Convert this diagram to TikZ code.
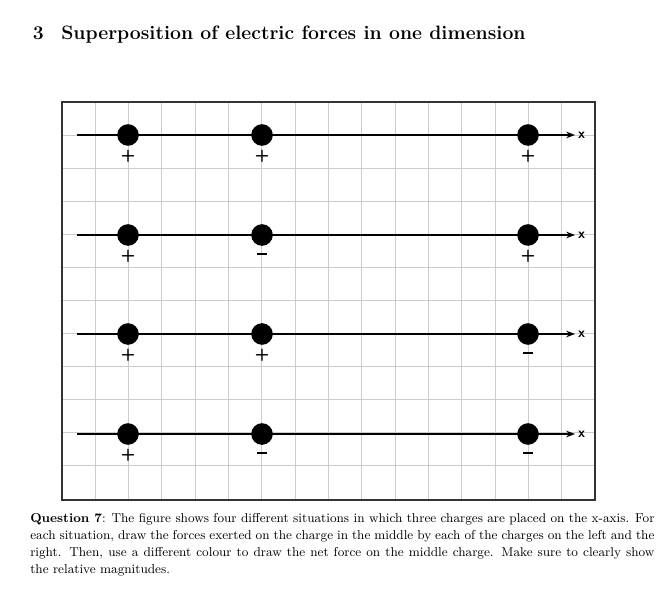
\documentclass[tikz,border=0pt]{standalone}
\usepackage{tikz}
\usetikzlibrary{arrows.meta, positioning}
\newcommand{\chplus}{+}
\newcommand{\chminus}{\rule[0.25em]{0.55em}{1.5pt}}

\begin{document}
\begin{tikzpicture}[
    x=0.025cm, y=-0.025cm,
    charge/.style = {circle, fill=black, inner sep=0pt, minimum size=0.54cm},
    sign/.style = {font=\large\sffamily\bfseries, inner sep=0pt, minimum height=0.3cm},
    axis/.style = {-{Stealth[length=2.2mm]}, line width=1pt},
    gridline/.style = {draw=black!20, line width=0.7pt}
]
\useasboundingbox (0,0) rectangle (671,616);

% ---- Heading ----
\node[anchor=west, font=\fontsize{13.8}{16}\selectfont\bfseries] (head) at (28,35)
    {3\hspace{0.9em}Superposition of electric forces in one dimension};

% ---- Grid ----
\foreach \i in {1,...,15} \draw[gridline] (62+33.33*\i,102) -- (62+33.33*\i,500);
\foreach \j in {1,...,11} \draw[gridline] (62,102+33.08*\j) -- (595,102+33.08*\j);
\draw[black!80, line width=1pt] (62,102) rectangle (595,500);

% ---- Charges on the x-axes ----
\foreach \r/\y/\sa/\sb/\sc in {1/135/\chplus/\chplus/\chplus, 2/235/\chplus/\chminus/\chplus,
                               3/334/\chplus/\chplus/\chminus, 4/434/\chplus/\chminus/\chminus} {
  \coordinate (start\r) at (77,\y);
  \coordinate (end\r) at (575,\y);
  \draw[axis] (start\r) -- (end\r);
  \node[right=2pt of end\r, sign, font=\sffamily\bfseries] (xl\r) {x};
  \node[charge] (qa\r) at (128,\y) {};
  \node[charge] (qb\r) at (262,\y) {};
  \node[charge] (qc\r) at (528,\y) {};
  \node[sign, below=0.1cm of qa\r] {\sa};
  \node[sign, below=0.1cm of qb\r] {\sb};
  \node[sign, below=0.1cm of qc\r] {\sc};
}

% ---- Question ----
\node[anchor=north west, text width=15.6cm, font=\fontsize{9.15}{12.2}\selectfont, inner sep=0pt, align=justify] (quest) at (30,513)
    {\textbf{Question 7}: The figure shows four different situations in which three charges are placed on the x-axis. For each situation, draw the forces exerted on the charge in the middle by each of the charges on the left and the right. Then, use a different colour to draw the net force on the middle charge. Make sure to clearly show\linebreak the relative magnitudes.};
\end{tikzpicture}
\end{document}
